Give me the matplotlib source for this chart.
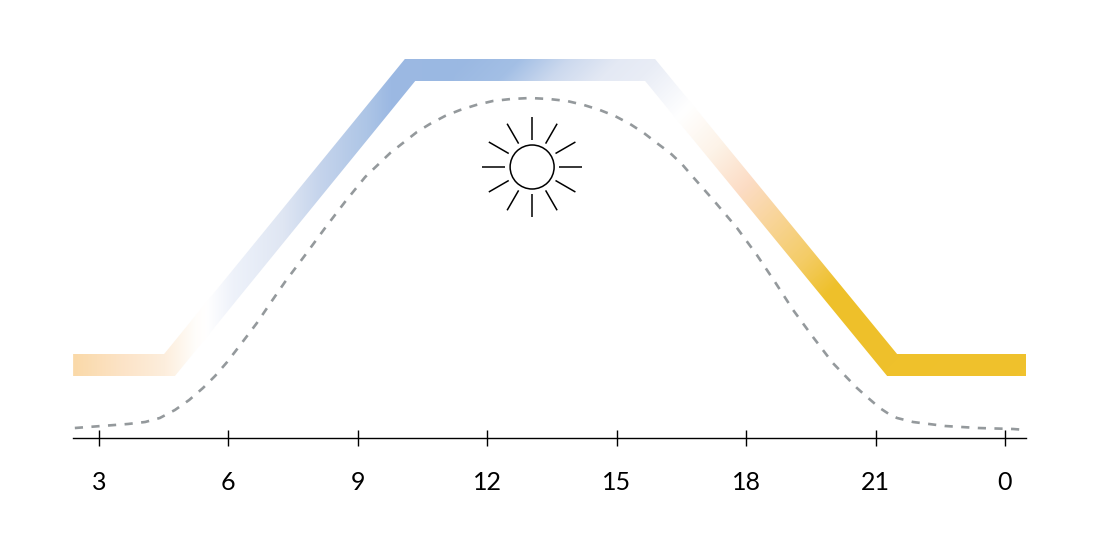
import numpy as np
import matplotlib
matplotlib.use("Agg")
import matplotlib.pyplot as plt
from matplotlib.colors import to_rgb
from matplotlib.patches import Polygon, Ellipse

# tick hours and labels
hour_ticks = [3, 6, 9, 12, 15, 18, 21, 24]
hour_labels = ["3", "6", "9", "12", "15", "18", "21", "0"]

# dashed curve
curve_hours = [2.44, 3.67, 4.07, 4.41, 4.76, 5.09, 5.41, 5.69, 5.97, 6.22, 6.45, 6.66, 6.99, 7.31,
               7.78, 8.24, 8.70, 9.17, 9.75, 10.37, 10.67, 11.02, 11.37, 11.74, 12.13, 12.55, 12.99,
               13.43, 13.85, 14.24, 14.61, 14.96, 15.31, 15.63, 15.93, 16.24, 16.51, 16.77, 17.28,
               17.79, 18.25, 18.67, 19.09, 19.55, 20.01, 20.57, 20.83, 21.10, 21.31, 21.50, 21.87,
               22.61, 23.38, 24.19, 24.49]
curve_values = [10, 14, 16, 20, 28, 38, 50, 62, 76, 90, 103, 115, 136, 156,
                183, 210, 236, 261, 285, 306, 314, 322, 328, 333, 337, 339, 340,
                339, 337, 333, 328, 322, 314, 305, 295, 285, 274, 261, 236,
                210, 183, 156, 128, 101, 75, 50, 40, 30, 24, 20, 16,
                12, 10, 9, 8]

# band outline
band_top_hours = [2.40, 4.51, 10.09, 15.89, 21.50, 24.49]
band_top_values = [84, 84, 379, 379, 84, 84]
band_low_hours = [2.40, 4.76, 10.33, 15.66, 21.27, 24.49]
band_low_values = [62, 62, 357, 357, 62, 62]

# band colours, morning part
morning_stops = [2.40, 3.49, 4.53, 5.23, 5.50, 6.11, 7.27, 8.12, 9.21, 9.75, 11.23]
morning_colors = ["#fad9a8", "#fce3c6", "#fdeedd", "#fffdfa", "#ffffff", "#eef2fa",
                  "#dfe6f3", "#c5d4ec", "#adc5e6", "#9cb9e3", "#9ab8e2"]
# band colours, afternoon part (gradient runs along the slope)
evening_stops = [2.68, 3.97, 5.13, 6.29, 7.22, 9.00, 10.56, 12.18, 15.22, 16.58, 22.80]
evening_colors = ["#9ab8e2", "#a3bfe5", "#ccd9ee", "#e4e9f4", "#e9edf6", "#ffffff",
                  "#fdf3e8", "#fcdcc4", "#f4cc66", "#eec02a", "#f0c22d"]
split_hour = 11.23

px_per_hour = 43.14
sun_hour, sun_value = 13.04, 271
sun_radius = 22
ray_in, ray_out = 27, 50

fig = plt.figure(figsize=(11, 5.5), dpi=100)
ax = fig.add_axes([0, 0, 1, 1])


def ramp(u, stops, colors):
    rgb = np.array([to_rgb(c) for c in colors])
    return np.stack([np.interp(u, stops, rgb[:, i]) for i in range(3)], axis=-1)


# gradient band, one image clipped to the outline
gx = np.linspace(band_top_hours[0], band_top_hours[-1], 1000)
gy = np.linspace(50, 390, 340)
X, Y = np.meshgrid(gx, gy)
img = ramp(X, morning_stops, morning_colors)
late = X >= split_hour
img[late] = ramp(X - Y / px_per_hour, evening_stops, evening_colors)[late]
im = ax.imshow(img, origin="lower", aspect="auto", interpolation="bilinear",
               extent=[gx[0], gx[-1], gy[0], gy[-1]], zorder=1)
outline = list(zip(band_top_hours, band_top_values)) + list(zip(band_low_hours, band_low_values))[::-1]
clip = Polygon(outline, closed=True, transform=ax.transData, facecolor="none", edgecolor="none")
ax.add_patch(clip)
im.set_clip_path(clip)
ax.set_xlim(0.705, 26.204)
ax.set_ylim(-112, 438)

# dashed line
ax.plot(curve_hours, curve_values, color="#94999c", lw=1.9, dashes=(3.1, 3.2),
        dash_capstyle="butt", zorder=2)

# sun
ax.add_patch(Ellipse((sun_hour, sun_value), 2 * sun_radius / px_per_hour, 2 * sun_radius,
                     facecolor="none", edgecolor="black", lw=1.1, zorder=3))
for a in np.deg2rad(np.arange(0, 360, 30)):
    ax.plot([sun_hour + ray_in * np.cos(a) / px_per_hour, sun_hour + ray_out * np.cos(a) / px_per_hour],
            [sun_value + ray_in * np.sin(a), sun_value + ray_out * np.sin(a)],
            color="black", lw=1.1, solid_capstyle="butt", zorder=3)

# axis
for s in ["top", "left", "right"]:
    ax.spines[s].set_visible(False)
ax.spines["bottom"].set_position(("data", 0))
ax.spines["bottom"].set_bounds(2.40, 24.49)
ax.spines["bottom"].set_linewidth(1.0)
ax.patch.set_visible(False)
ax.set_yticks([])
ax.set_xticks(hour_ticks)
ax.set_xticklabels(hour_labels, fontsize=18, family="Lato")
ax.tick_params(axis="x", direction="inout", length=11.5, width=1.0, pad=18, color="black", labelcolor="black")

fig.savefig("out.png", dpi=100, facecolor="white")
